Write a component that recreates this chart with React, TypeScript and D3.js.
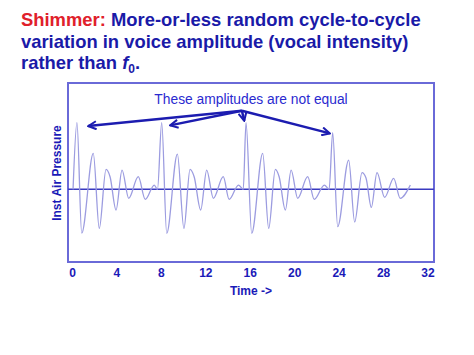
import React from "react";
import * as d3 from "d3";

// Waveform extrema (time, instantaneous pressure)
const waveTime = [
  0.05, 0.4, 0.83, 1.87, 2.41, 3.02, 3.38, 3.92, 4.46, 5.06, 5.92, 6.55, 7.36, 7.65,
  8.03, 8.48, 9.44, 10.03, 10.58, 10.95, 11.54, 12.08, 12.68, 13.57, 14.1, 14.94, 15.37,
  15.62, 16.13, 17.12, 17.66, 18.26, 18.6, 19.16, 19.68, 20.27, 21.17, 21.76, 22.67, 23.1,
  23.42, 23.87, 24.86, 25.4, 26.06, 26.42, 26.9, 27.41, 28.1, 28.91, 29.5, 30.41
];
const waveValue = [
  0, 1.0, -0.656, 0.54, -0.586, 0.3, 0.19, -0.31, 0.29, -0.135, 0.19, -0.15, 0.065, 0,
  1.0, -0.66, 0.53, -0.586, 0.3, 0.19, -0.31, 0.29, -0.135, 0.19, -0.15, 0.065, 0,
  1.0, -0.66, 0.54, -0.586, 0.3, 0.19, -0.31, 0.29, -0.135, 0.19, -0.15, 0.065, 0,
  0.85, -0.56, 0.44, -0.49, 0.25, 0.17, -0.27, 0.25, -0.12, 0.165, -0.135, 0.065
];
const xTicks = [0, 4, 8, 12, 16, 20, 24, 28, 32];
// Arrow targets (time, value) pointing at the big peaks
const arrowFrom = [15.25, 1.18];
const arrowToTime = [1.42, 8.78, 15.46, 23.17];
const arrowToValue = [0.95, 0.96, 1.03, 0.84];

const W = 474;
const H = 355;

export default function App() {
  const x = d3.scaleLinear().domain([0, 32]).range([72.5, 428]);
  const y = d3.scaleLinear().domain([-1.09, 1.596]).range([262, 83]);
  const pts: [number, number][] = waveTime.map((t, i) => [t, waveValue[i]]);
  const line = d3
    .line<[number, number]>()
    .x((d) => x(d[0]))
    .y((d) => y(d[1]))
    .curve(d3.curveMonotoneX);

  const ox = x(arrowFrom[0]);
  const oy = y(arrowFrom[1]);

  const textBlue = "#1a1aa8";
  const titleFont = "'Liberation Sans', Arial, sans-serif";

  return (
    <svg
      width={W}
      height={H}
      style={{ position: "absolute", left: 0, top: 0, background: "#fff" }}
      fontFamily={titleFont}
    >
      <defs>
        <marker
          id="ah"
          viewBox="0 0 10 10"
          refX="9"
          refY="5"
          markerWidth="4"
          markerHeight="4"
          orient="auto"
          markerUnits="strokeWidth"
        >
          <path d="M1,1 L9,5 L1,9" fill="none" stroke="#1c1cb0" strokeWidth="2" />
        </marker>
      </defs>
      {/* Title */}
      <text x={21} y={26} fontSize={18.4} fontWeight="bold">
        <tspan fill="#e0202a">Shimmer: </tspan>
        <tspan fill={textBlue}>More-or-less random cycle-to-cycle</tspan>
      </text>
      <text x={21} y={48} fontSize={18.4} fontWeight="bold" fill={textBlue}>
        variation in voice amplitude (vocal intensity)
      </text>
      <text x={21} y={69} fontSize={18.4} fontWeight="bold" fill={textBlue}>
        rather than <tspan fontStyle="italic">f</tspan>
        <tspan fontSize={12} dy={4}>0</tspan>
        <tspan dy={-4}>.</tspan>
      </text>

      {/* Plot frame */}
      <rect x={68} y={83} width={366} height={179} fill="none" stroke="#6a6ad8" strokeWidth={2} />
      {/* Baseline */}
      <line x1={68} x2={434} y1={y(0)} y2={y(0)} stroke="#3a3ac0" strokeWidth={1.5} />
      {/* Waveform */}
      <path d={line(pts) || ""} fill="none" stroke="#9c9ce0" strokeWidth={1.3} />

      {/* Annotation */}
      <text x={251} y={104} fontSize={13.8} fill="#2a2ad0" textAnchor="middle">
        These amplitudes are not equal
      </text>
      {arrowToTime.map((t, i) => (
        <line
          key={i}
          x1={ox}
          y1={oy}
          x2={x(t)}
          y2={y(arrowToValue[i])}
          stroke="#1c1cb0"
          strokeWidth={2.5}
          markerEnd="url(#ah)"
        />
      ))}

      {/* X ticks */}
      {xTicks.map((t) => (
        <text
          key={t}
          x={x(t)}
          y={277}
          fontSize={12}
          fontWeight="bold"
          fill="#1a1ab8"
          textAnchor="middle"
        >
          {t}
        </text>
      ))}
      <text x={251} y={295} fontSize={12} fontWeight="bold" fill="#1a1ab8" textAnchor="middle">
        Time -&gt;
      </text>
      <text
        transform={`translate(61,173) rotate(-90)`}
        fontSize={12}
        fontWeight="bold"
        fill="#1a1ab8"
        textAnchor="middle"
      >
        Inst Air Pressure
      </text>
    </svg>
  );
}
